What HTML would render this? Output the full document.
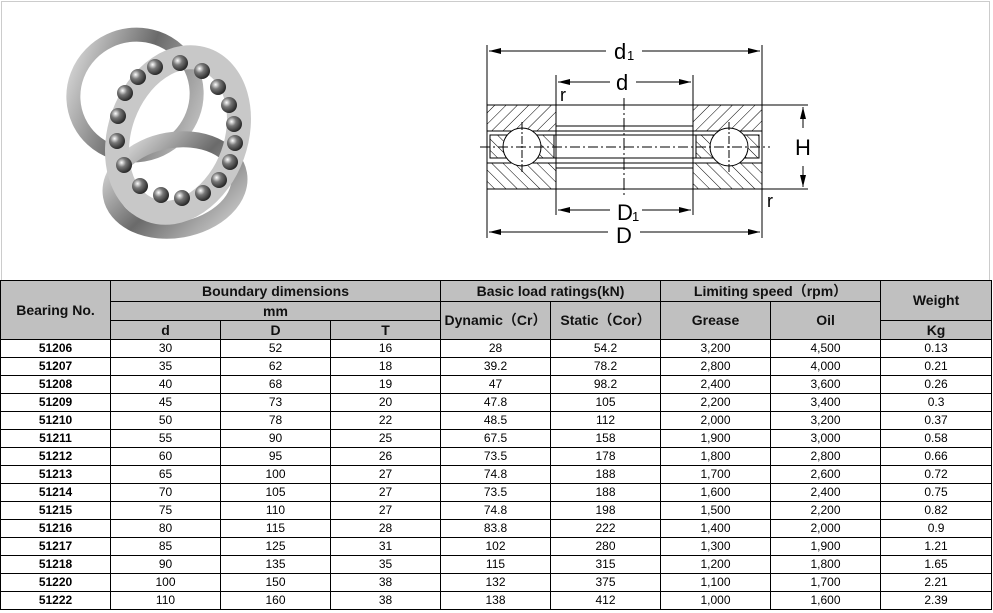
<!DOCTYPE html>
<html><head><meta charset="utf-8"><style>
body{margin:0;width:993px;height:613px;background:#fff;position:relative;overflow:hidden;font-family:"Liberation Sans","Noto Sans CJK SC",sans-serif}
.frame{position:absolute;left:1px;top:1px;width:989px;height:300px;border:1px solid #ccc;box-sizing:border-box}
table{position:absolute;left:0;top:280px;border-collapse:collapse;table-layout:fixed;width:991px}
td{border:1px solid #000;padding:0;text-align:center;font-size:12px;height:17px;line-height:17px;overflow:hidden;white-space:nowrap}
.h td{background:#c0c0c0;font-weight:bold;font-size:14px;color:#111}
td.b{font-weight:bold}
</style></head><body>
<div class="frame"></div>
<svg style="position:absolute;left:0;top:0" width="993" height="280">
<defs>
<linearGradient id="g1" x1="0" y1="0" x2="1" y2="1"><stop offset="0" stop-color="#e8e8e8"/><stop offset=".5" stop-color="#6a6a6a"/><stop offset="1" stop-color="#d0d0d0"/></linearGradient>
<radialGradient id="bl" cx=".35" cy=".35" r=".7"><stop offset="0" stop-color="#fff"/><stop offset=".4" stop-color="#777"/><stop offset="1" stop-color="#222"/></radialGradient>
<pattern id="h1" width="8" height="8" patternUnits="userSpaceOnUse" patternTransform="rotate(45)"><line x1="0" y1="0" x2="0" y2="8" stroke="#000" stroke-width="1"/></pattern>
<pattern id="h2" width="8" height="8" patternUnits="userSpaceOnUse" patternTransform="rotate(-45)"><line x1="0" y1="0" x2="0" y2="8" stroke="#000" stroke-width="1"/></pattern>
<marker id="a" markerWidth="12" markerHeight="6" refX="12" refY="3" orient="auto"><path d="M0,0 L12,3 L0,6Z" fill="#000"/></marker>
</defs>
<!-- bearing photo -->
<ellipse cx="135" cy="95" rx="62" ry="60" transform="rotate(-25 135 95)" fill="none" stroke="url(#g1)" stroke-width="14"/>
<ellipse cx="175" cy="185" rx="65" ry="45" transform="rotate(-10 175 185)" fill="none" stroke="url(#g1)" stroke-width="16"/>
<ellipse cx="178" cy="135" rx="58" ry="80" transform="rotate(20 178 135)" fill="none" stroke="#c8c8c8" stroke-width="24"/>
<g fill="url(#bl)">
<circle cx="155" cy="67" r="8"/><circle cx="180" cy="63" r="8"/><circle cx="202" cy="71" r="8"/><circle cx="218" cy="87" r="8"/><circle cx="229" cy="105" r="8"/><circle cx="234" cy="124" r="8"/><circle cx="235" cy="143" r="8"/><circle cx="230" cy="162" r="8"/><circle cx="219" cy="180" r="8"/><circle cx="203" cy="193" r="8"/><circle cx="182" cy="198" r="8"/><circle cx="161" cy="195" r="8"/><circle cx="140" cy="186" r="8"/><circle cx="124" cy="165" r="8"/><circle cx="117" cy="141" r="8"/><circle cx="118" cy="116" r="8"/><circle cx="125" cy="93" r="8"/><circle cx="138" cy="77" r="8"/>
</g>
<!-- drawing -->
<g stroke="#000" fill="none" stroke-width="1">
<rect x="487" y="105" width="69" height="26" fill="url(#h1)"/><rect x="693" y="105" width="69" height="26" fill="url(#h1)"/>
<rect x="487" y="163" width="69" height="26" fill="url(#h2)"/><rect x="693" y="163" width="69" height="26" fill="url(#h2)"/>
<rect x="490" y="135" width="64" height="23" fill="url(#h2)"/><rect x="696" y="135" width="63" height="23" fill="url(#h2)"/>
<circle cx="522" cy="147" r="19" fill="#fff"/><circle cx="729" cy="147" r="19" fill="#fff"/>
<line x1="556" y1="105" x2="693" y2="105"/><line x1="556" y1="126" x2="693" y2="126"/><line x1="556" y1="131" x2="693" y2="131"/>
<line x1="554" y1="135" x2="696" y2="135"/><line x1="554" y1="158" x2="696" y2="158"/>
<line x1="556" y1="163" x2="693" y2="163"/><line x1="556" y1="168" x2="693" y2="168"/><line x1="556" y1="189" x2="693" y2="189"/>
<line x1="480" y1="147" x2="770" y2="147" stroke-dasharray="10 3 2 3"/>
<line x1="624" y1="98" x2="624" y2="196" stroke-dasharray="12 3 2 3"/>
<line x1="522" y1="122" x2="522" y2="172" stroke-dasharray="8 2 2 2"/><line x1="729" y1="122" x2="729" y2="172" stroke-dasharray="8 2 2 2"/>
<line x1="487" y1="45" x2="487" y2="238"/><line x1="762" y1="45" x2="762" y2="238"/>
<line x1="556" y1="75" x2="556" y2="215"/><line x1="693" y1="75" x2="693" y2="215"/>
<line x1="762" y1="105" x2="808" y2="105"/><line x1="762" y1="189" x2="808" y2="189"/>
<line x1="606" y1="51" x2="489" y2="51" marker-end="url(#a)"/><line x1="642" y1="51" x2="760" y2="51" marker-end="url(#a)"/>
<line x1="610" y1="82" x2="558" y2="82" marker-end="url(#a)"/><line x1="636" y1="82" x2="691" y2="82" marker-end="url(#a)"/>
<line x1="610" y1="210" x2="558" y2="210" marker-end="url(#a)"/><line x1="642" y1="210" x2="691" y2="210" marker-end="url(#a)"/>
<line x1="608" y1="232" x2="489" y2="232" marker-end="url(#a)"/><line x1="640" y1="232" x2="760" y2="232" marker-end="url(#a)"/>
<line x1="803" y1="128" x2="803" y2="107" marker-end="url(#a)"/><line x1="803" y1="166" x2="803" y2="187" marker-end="url(#a)"/>
</g>
<g font-family="Liberation Sans,sans-serif" fill="#000">
<text x="614" y="59" font-size="22">d</text><text x="627" y="60" font-size="13">1</text>
<text x="616" y="90" font-size="22">d</text>
<text x="560" y="101" font-size="18">r</text><text x="767" y="207" font-size="18">r</text>
<text x="795" y="155" font-size="22">H</text>
<text x="617" y="220" font-size="22">D</text><text x="632" y="221" font-size="13">1</text>
<text x="616" y="243" font-size="22">D</text>
</g>
</svg>
<table>
<colgroup><col style="width:110px"><col style="width:110px"><col style="width:110px"><col style="width:110px"><col style="width:110px"><col style="width:110px"><col style="width:110px"><col style="width:110px"><col style="width:111px"></colgroup>
<tr class="h"><td rowspan="3" style="height:58px">Bearing No.</td><td colspan="3" style="height:20px">Boundary dimensions</td><td colspan="2">Basic load ratings(kN)</td><td colspan="2">Limiting speed（rpm）</td><td rowspan="2">Weight</td></tr>
<tr class="h"><td colspan="3" style="height:18px">mm</td><td rowspan="2">Dynamic（Cr）</td><td rowspan="2">Static（Cor）</td><td rowspan="2">Grease</td><td rowspan="2">Oil</td></tr>
<tr class="h"><td style="height:18px">d</td><td>D</td><td>T</td><td>Kg</td></tr>
<tr><td class="b">51206</td><td>30</td><td>52</td><td>16</td><td>28</td><td>54.2</td><td>3,200</td><td>4,500</td><td>0.13</td></tr>
<tr><td class="b">51207</td><td>35</td><td>62</td><td>18</td><td>39.2</td><td>78.2</td><td>2,800</td><td>4,000</td><td>0.21</td></tr>
<tr><td class="b">51208</td><td>40</td><td>68</td><td>19</td><td>47</td><td>98.2</td><td>2,400</td><td>3,600</td><td>0.26</td></tr>
<tr><td class="b">51209</td><td>45</td><td>73</td><td>20</td><td>47.8</td><td>105</td><td>2,200</td><td>3,400</td><td>0.3</td></tr>
<tr><td class="b">51210</td><td>50</td><td>78</td><td>22</td><td>48.5</td><td>112</td><td>2,000</td><td>3,200</td><td>0.37</td></tr>
<tr><td class="b">51211</td><td>55</td><td>90</td><td>25</td><td>67.5</td><td>158</td><td>1,900</td><td>3,000</td><td>0.58</td></tr>
<tr><td class="b">51212</td><td>60</td><td>95</td><td>26</td><td>73.5</td><td>178</td><td>1,800</td><td>2,800</td><td>0.66</td></tr>
<tr><td class="b">51213</td><td>65</td><td>100</td><td>27</td><td>74.8</td><td>188</td><td>1,700</td><td>2,600</td><td>0.72</td></tr>
<tr><td class="b">51214</td><td>70</td><td>105</td><td>27</td><td>73.5</td><td>188</td><td>1,600</td><td>2,400</td><td>0.75</td></tr>
<tr><td class="b">51215</td><td>75</td><td>110</td><td>27</td><td>74.8</td><td>198</td><td>1,500</td><td>2,200</td><td>0.82</td></tr>
<tr><td class="b">51216</td><td>80</td><td>115</td><td>28</td><td>83.8</td><td>222</td><td>1,400</td><td>2,000</td><td>0.9</td></tr>
<tr><td class="b">51217</td><td>85</td><td>125</td><td>31</td><td>102</td><td>280</td><td>1,300</td><td>1,900</td><td>1.21</td></tr>
<tr><td class="b">51218</td><td>90</td><td>135</td><td>35</td><td>115</td><td>315</td><td>1,200</td><td>1,800</td><td>1.65</td></tr>
<tr><td class="b">51220</td><td>100</td><td>150</td><td>38</td><td>132</td><td>375</td><td>1,100</td><td>1,700</td><td>2.21</td></tr>
<tr><td class="b">51222</td><td>110</td><td>160</td><td>38</td><td>138</td><td>412</td><td>1,000</td><td>1,600</td><td>2.39</td></tr>
</table>
</body></html>
